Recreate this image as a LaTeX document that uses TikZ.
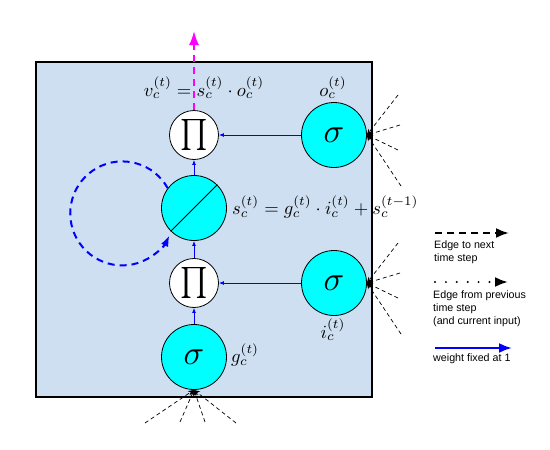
\documentclass[tikz,border=0pt]{standalone}
\usepackage{graphicx}
\usepackage{fontspec}
\newfontfamily\legendfont{Liberation Sans}
\usetikzlibrary{arrows.meta}
\definecolor{boxfill}{RGB}{205,223,240}
\definecolor{cellcyan}{RGB}{0,255,255}
\definecolor{outmag}{RGB}{255,0,255}
\definecolor{wblue}{RGB}{0,0,255}
\newcommand{\sigsym}{\scalebox{3.4}{$\sigma$}}
\newcommand{\prodsym}{\scalebox{2.9}[3.1]{$\prod$}}
\newcommand{\lblmath}[1]{\scalebox{1.86}{$#1$}}
\begin{document}
\begin{tikzpicture}[x=1pt,y=-1pt,
  cell/.style={circle,draw=black,line width=0.8pt,fill=cellcyan,minimum size=65pt,inner sep=0pt},
  prodnode/.style={circle,draw=black,line width=0.8pt,fill=white,minimum size=49pt,inner sep=0pt},
  wt/.style={wblue,line width=0.9pt,-{Latex[length=5pt,width=4pt]}},
  fan/.style={black,dash pattern=on 4pt off 3pt,line width=0.7pt,-{Stealth[length=6pt,width=5pt]}},
  lbl/.style={inner sep=0pt},
  leg/.style={font=\legendfont\fontsize{10.7}{13}\selectfont,align=left,anchor=north west,inner sep=0pt},
  legarrow/.style={line width=2.2pt,-{Latex[length=13pt,width=10pt]}}]
\useasboundingbox (0,0) rectangle (550,450);
\draw[line width=2pt,fill=boxfill] (36,62) rectangle (372,397);
% nodes
\node[prodnode] (p1) at (194,135) {\prodsym};
\node[cell] (o) at (334,135) {\sigsym};
\node[cell] (s) at (194,208) {};
\draw[line width=0.8pt] (s.north east) -- (s.south west);
\node[prodnode] (p2) at (194,283) {\prodsym};
\node[cell] (i) at (334,283) {\sigsym};
\node[cell] (g) at (194,357) {\sigsym};
% labels
\node[lbl] (vl) at (204,88) {\lblmath{v_c^{(t)} = s_c^{(t)} \cdot o_c^{(t)}}};
\node[lbl] (ol) at (333,88) {\lblmath{o_c^{(t)}}};
\node[lbl,anchor=west] (sl) at (232,207) {\lblmath{s_c^{(t)} = g_c^{(t)} \cdot i_c^{(t)} + s_c^{(t-1)}}};
\node[lbl] (il) at (333,330) {\lblmath{i_c^{(t)}}};
\node[lbl,anchor=west] (gl) at (231,355) {\lblmath{g_c^{(t)}}};
% weight-1 connections
\draw[wt] (o) -- (p1);
\draw[wt] (s) -- (p1);
\draw[wt] (p2) -- (s);
\draw[wt] (g) -- (p2);
\draw[wt] (i) -- (p2);
% self loop
\draw[wblue,line width=2pt,dash pattern=on 7pt off 5pt,-{Latex[length=11pt,width=8pt]}]
  (s.143) arc[start angle=29,end angle=335,radius=52pt];
% output
\coordinate (out) at (194,31);
\draw[outmag,line width=2pt,dash pattern=on 7pt off 5pt,-{Latex[length=14pt,width=10pt]}] (p1) -- (out);
% fans
\foreach \n/\x/\y in {a/398/95,b/400/125,c/398/150,d/401/186}{
  \coordinate (o\n) at (\x,\y);
  \draw[fan] (o\n) -- (o.east);
}
\foreach \n/\x/\y in {a/398/243,b/400/273,c/398/298,d/401/334}{
  \coordinate (i\n) at (\x,\y);
  \draw[fan] (i\n) -- (i.east);
}
\foreach \n/\x/\y in {a/145/423,b/180/422,c/205/422,d/236/423}{
  \coordinate (g\n) at (\x,\y);
  \draw[fan] (g\n) -- (g.south);
}
% legend
\coordinate (l1a) at (435,233); \coordinate (l1b) at (509,233);
\draw[legarrow,dash pattern=on 7pt off 5pt] (l1a) -- (l1b);
\node[leg] (t1) at (434,241) {Edge to next\\time step};
\coordinate (l2a) at (435,282); \coordinate (l2b) at (508,282);
\draw[legarrow,line cap=round,dash pattern=on 0pt off 10.9pt] (l2a) -- (l2b);
\node[leg] (t2) at (433,291) {Edge from previous\\time step\\(and current input)};
\coordinate (l3a) at (435,348); \coordinate (l3b) at (512,348);
\draw[legarrow,wblue] (l3a) -- (l3b);
\node[leg] (t3) at (433,354) {weight fixed at 1};
\end{tikzpicture}
\end{document}
